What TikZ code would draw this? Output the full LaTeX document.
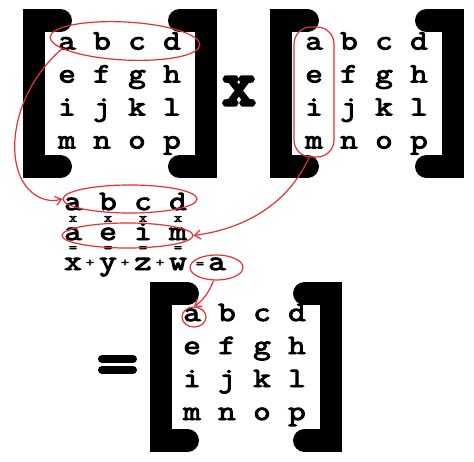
\documentclass[tikz,border=0pt]{standalone}
\usepackage{fontspec}
\newfontfamily\cour{Latin Modern Mono}[FakeBold=3.5,FakeStretch=1.22]
\newfontfamily\courx{Latin Modern Mono}[FakeBold=6]
\usetikzlibrary{shapes.geometric,arrows.meta}
\definecolor{pen}{RGB}{232,48,52}
\newcommand\lbrk[3]{%
  \fill (#1,#2) rectangle ({#1+22},#3);
  \fill (#1,#2) rectangle ({#1+37.5},{#2+23});
  \fill ({#1+37.5},{#2+11.5}) circle[radius=11.5pt];
  \fill (#1,{#3-23}) rectangle ({#1+37.5},#3);
  \fill ({#1+37.5},{#3-11.5}) circle[radius=11.5pt];}
\newcommand\rbrk[3]{%
  \fill ({#1-22},#2) rectangle (#1,#3);
  \fill ({#1-37.5},#2) rectangle (#1,{#2+23});
  \fill ({#1-37.5},{#2+11.5}) circle[radius=11.5pt];
  \fill ({#1-37.5},{#3-23}) rectangle (#1,#3);
  \fill ({#1-37.5},{#3-11.5}) circle[radius=11.5pt];}
\begin{document}
\begin{tikzpicture}[x=1pt,y=-1pt,
  lett/.style={font=\cour\fontsize{28}{28}\selectfont,anchor=base,inner sep=0pt},
  small/.style={font=\cour\fontsize{13}{13}\selectfont,inner sep=0pt},
  redc/.style={draw=pen,line width=1.2pt,inner sep=0pt},
  redarrow/.style={draw=pen,line width=1.2pt,-{Straight Barb[length=6pt,width=9pt]}}]
\useasboundingbox (0,0) rectangle (474,461);
% brackets
\lbrk{23}{9}{178}
\rbrk{217}{9}{178}
\lbrk{270}{9}{178}
\rbrk{464}{9}{178}
\lbrk{150}{282}{452}
\rbrk{342}{282}{452}
% matrix letters
\foreach \ch [count=\i from 0] in {a,b,c,d,e,f,g,h,i,j,k,l,m,n,o,p}{
  \pgfmathtruncatemacro{\rr}{div(\i,4)}
  \pgfmathtruncatemacro{\cc}{mod(\i,4)}
  \node[lett] (A\i) at ({67+35*\cc},{49.5+33*\rr}) {\ch};
  \node[lett] (B\i) at ({314+35*\cc},{49.5+33*\rr}) {\ch};
  \node[lett] (C\i) at ({192+35*\cc},{321+33*\rr}) {\ch};
}
% multiplication sign
\node[font=\courx\fontsize{64}{64}\selectfont,inner sep=0pt] (times) at (239,91) {x};
% big equals
\draw[line width=8pt,line cap=round] (102,359) -- (133,359);
\draw[line width=8pt,line cap=round] (102,370) -- (133,370);
% middle computation
\foreach \ch/\xx [count=\j] in {a/73,b/108,c/143,d/178}{
  \node[lett] (R\j) at (\xx,210) {\ch};
  \node[small] (X\j) at (\xx,219) {x};
}
\foreach \ch/\xx [count=\j] in {a/73,e/108,i/143,m/178}{
  \node[lett] (S\j) at (\xx,240) {\ch};
  \node[small] (Q\j) at (\xx,249) {=};
}
\foreach \ch/\xx [count=\j] in {x/73,y/108,z/143,w/178}{
  \node[lett] (T\j) at (\xx,270) {\ch};
}
\foreach \xx [count=\j] in {90,125,160}{
  \node[small] (P\j) at (\xx,263) {+};
}
\node[small] (eq) at (200,265) {=};
\node[lett] (res) at (217,270) {a};
% red loops
\node[redc,ellipse,minimum width=150pt,minimum height=38pt,rotate=-3] (E1) at (125,41) {};
\node[redc,rectangle,rounded corners=17pt,minimum width=40pt,minimum height=130pt] (E2) at (314,92) {};
\node[redc,ellipse,minimum width=134pt,minimum height=28pt] (E3) at (130,199) {};
\node[redc,ellipse,minimum width=131pt,minimum height=25pt] (E4) at (127.5,235.5) {};
\node[redc,ellipse,minimum width=53pt,minimum height=25pt] (E5) at (216.5,267.5) {};
\node[redc,ellipse,minimum width=24pt,minimum height=20pt] (E6) at (194,317) {};
% red arrows
\draw[redarrow] (E1.190) .. controls (15,90) and (6,150) .. (22,180) .. controls (32,198) and (48,203) .. (E3.west);
\draw[redarrow] ([xshift=-5pt]E2.south) .. controls (290,200) and (250,228) .. (E4.east);
\draw[redarrow] ([xshift=-3pt]E5.south) .. controls (210,290) and (204,300) .. (E6.north);
\end{tikzpicture}
\end{document}
